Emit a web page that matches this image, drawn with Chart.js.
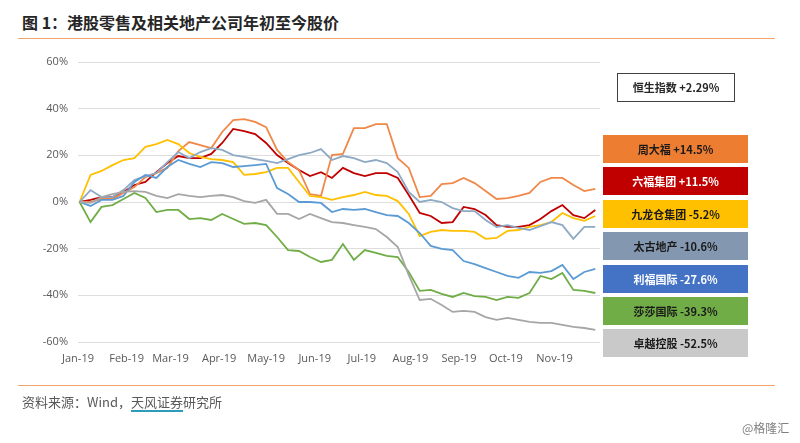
<!DOCTYPE html>
<html>
<head>
<meta charset="utf-8">
<script src="https://cdn.jsdelivr.net/npm/chart.js@4.4.1/dist/chart.umd.min.js"></script>
<style>
    html, body { margin: 0; padding: 0; background: #fff; }
    body {
        width: 800px; height: 443px; position: relative; overflow: hidden;
        font-family: "Noto Sans CJK SC", "Noto Sans", sans-serif;
    }
    .title { position: absolute; left: 22px; top: 11px; font-size: 16px; font-weight: bold; color: #262626; line-height: 22px; }
    .rule { position: absolute; left: 18px; width: 757px; height: 0; border-top: 1.5px solid #F2A46A; }
    #wrap { position: absolute; left: 0; top: 0; width: 800px; height: 443px; }
    .hsi {
        position: absolute; left: 617px; top: 73px; width: 118px; height: 29px; box-sizing: border-box;
        border: 1.5px solid #404040; text-align: center; line-height: 26px; font-size: 11px; font-weight: bold; color: #262626;
    }
    .tag {
        position: absolute; left: 603px; width: 145px; height: 28px; line-height: 28px;
        text-align: center; font-size: 11px; font-weight: bold; color: #1a1a1a;
    }
    .source { position: absolute; left: 22px; top: 392px; font-size: 13px; color: #595959; }
    .source u { text-decoration-color: #2E9BB8; text-decoration-thickness: 2px; text-underline-offset: 3px; }
    .mark { position: absolute; left: 742px; top: 419px; font-size: 12px; color: #808080; }
</style>
</head>
<body>
<div class="title">图 1：港股零售及相关地产公司年初至今股价</div>
<div class="rule" style="top:38px"></div>
<div id="wrap"><canvas id="chart"></canvas></div>
<div class="hsi">恒生指数 +2.29%</div>
<div id="tags"></div>
<div class="rule" style="top:385px"></div>
<div class="source">资料来源：Wind，<u>天风证券</u>研究所</div>
<div class="mark">@格隆汇</div>
<script>
(function () {
    "use strict";

    // day of year (Jan 1 = 0), one point a week
    const days = [];
    for (let d = 1; d <= 330; d += 7) days.push(d);

    const monthStarts = [0, 31, 59, 90, 120, 151, 181, 212, 243, 273, 304];
    const monthLabels = ["Jan-19", "Feb-19", "Mar-19", "Apr-19", "May-19", "Jun-19",
        "Jul-19", "Aug-19", "Sep-19", "Oct-19", "Nov-19"];

    // 周大福
    const chowTaiFook = [0, 0, 1.3, 1.3, 3.9, 6.4, 10.7, 12.4, 14.6, 21.8, 25.7, 24.4,
        23.1, 30.0, 35.1, 35.5, 34.3, 32.1, 22.3, 17.1, 13.7, 3.4, 2.6, 20.1,
        20.6, 31.7, 31.7, 33.4, 33.4, 18.8, 14.6, 2.1, 2.6, 7.7, 8.1, 10.3,
        8.1, 4.7, 1.3, 1.7, 2.6, 3.9, 8.6, 10.3, 10.3, 7.3, 4.7, 5.6];
    // 六福集团
    const lukFook = [0, 0.9, 2.1, 2.1, 4.3, 7.3, 8.6, 12.8, 16.7, 19.7, 18.8, 18.8,
        20.6, 25.3, 31.3, 30.4, 29.1, 25.3, 20.1, 16.7, 13.7, 11.1, 12.8, 10.3,
        14.6, 12.4, 11.1, 12.4, 12.4, 10.3, 3.0, -4.7, -6.0, -9.0, -8.6, -2.1,
        -3.0, -5.6, -9.9, -10.7, -10.7, -9.9, -7.3, -3.9, -1.3, -5.6, -6.9, -3.4];
    // 九龙仓集团
    const wharf = [0, 11.6, 13.3, 15.8, 18.0, 18.8, 23.6, 24.8, 26.6, 24.8, 21.0, 19.3,
        18.4, 18.0, 17.1, 11.6, 12.0, 12.8, 14.6, 14.6, 8.6, 2.6, 2.1, 0.9,
        2.1, 3.0, 4.3, 3.0, 2.6, 0.4, -5.1, -14.6, -12.8, -12.0, -12.4, -12.4,
        -12.8, -15.8, -15.4, -12.4, -12.0, -10.7, -9.9, -8.6, -4.7, -6.9, -8.1, -6.0];
    // 太古地产
    const swireProp = [0, 5.1, 2.1, 2.1, 5.1, 9.4, 11.1, 12.4, 17.1, 21.4, 18.8, 21.4,
        23.1, 22.3, 20.1, 19.3, 18.4, 17.6, 16.7, 18.4, 20.1, 21.0, 22.7, 18.0,
        19.7, 18.8, 17.1, 18.0, 16.7, 12.8, 4.3, 0, 0.9, 0, -2.6, -3.9,
        -3.9, -7.7, -10.7, -9.9, -11.1, -12.0, -10.3, -8.6, -9.9, -15.8, -10.7, -10.7];
    // 利福国际
    const lifestyle = [0, -1.7, 0.9, 0.9, 2.6, 8.6, 11.6, 10.3, 15.0, 18.0, 16.3, 15.0,
        17.1, 16.7, 15.0, 15.4, 15.8, 16.3, 6.0, 3.4, 0, 0, -0.4, -4.3,
        -3.0, -3.4, -3.0, -4.3, -5.6, -6.0, -9.0, -13.3, -18.8, -20.1, -20.6, -25.3,
        -26.6, -28.3, -30.0, -31.7, -32.5, -30.0, -30.4, -29.6, -27.0, -33.0, -30.0, -28.7];
    // 莎莎国际
    const sasa = [0, -8.6, -2.1, -1.3, 1.3, 3.9, 1.7, -4.3, -3.4, -3.4, -7.3, -6.9,
        -7.7, -5.1, -7.3, -9.4, -9.0, -9.9, -15.0, -20.6, -21.0, -23.6, -25.7, -24.8,
        -18.0, -24.8, -20.6, -21.8, -23.1, -23.6, -30.0, -38.1, -37.7, -39.4, -40.7, -39.0,
        -40.3, -40.7, -42.0, -40.7, -41.1, -39.0, -31.7, -33.0, -30.4, -37.7, -38.1, -39.0];
    // 卓越控股
    const zhuoyue = [0, -0.4, 2.1, 3.4, 4.3, 4.7, 4.3, 2.6, 1.7, 3.4, 2.6, 2.1,
        2.6, 3.0, 2.1, 0.4, -0.4, 0.9, -5.1, -5.1, -7.3, -5.1, -6.9, -8.6,
        -9.0, -9.9, -10.7, -11.6, -15.0, -19.3, -31.3, -42.0, -41.5, -44.1, -47.1, -46.7,
        -47.1, -49.3, -50.5, -49.7, -50.5, -51.4, -51.8, -51.8, -52.7, -53.5, -54.0, -54.8];

    const series = [
        { name: "卓越控股", tag: "卓越控股 -52.5%", data: zhuoyue, line: "#A6A6A6", box: "#C9C9C9", text: "#1a1a1a" },
        { name: "莎莎国际", tag: "莎莎国际 -39.3%", data: sasa, line: "#70AD47", box: "#70AD47", text: "#1a1a1a" },
        { name: "利福国际", tag: "利福国际 -27.6%", data: lifestyle, line: "#5B9BD5", box: "#4472C4", text: "#ffffff" },
        { name: "太古地产", tag: "太古地产 -10.6%", data: swireProp, line: "#8EA9C4", box: "#8497B0", text: "#1a1a1a" },
        { name: "九龙仓集团", tag: "九龙仓集团 -5.2%", data: wharf, line: "#FFC000", box: "#FFC000", text: "#1a1a1a" },
        { name: "周大福", tag: "周大福 +14.5%", data: chowTaiFook, line: "#F0884A", box: "#ED7D31", text: "#1a1a1a" },
        { name: "六福集团", tag: "六福集团 +11.5%", data: lukFook, line: "#C00000", box: "#C00000", text: "#ffffff" },
    ];

    // Colour tags on the right, top to bottom
    const tagOrder = ["周大福", "六福集团", "九龙仓集团", "太古地产", "利福国际", "莎莎国际", "卓越控股"];
    const tagTops = [135, 167, 200, 232, 265, 297, 329];
    const tagBox = document.getElementById("tags");
    tagOrder.forEach((name, i) => {
        const s = series.find((x) => x.name === name);
        const el = document.createElement("div");
        el.className = "tag";
        el.style.top = tagTops[i] + "px";
        el.style.background = s.box;
        el.style.color = s.text;
        el.textContent = s.tag;
        tagBox.appendChild(el);
    });

    const tickFont = { family: "'Open Sans', 'Noto Sans', sans-serif", size: 11 };

    new Chart(document.getElementById("chart"), {
        type: "line",
        data: {
            datasets: series.map((s) => ({
                label: s.name,
                data: days.map((d, i) => ({ x: d, y: s.data[i] })),
                borderColor: s.line,
                borderWidth: 1.8,
                pointRadius: 0,
                tension: 0,
                fill: false,
            })),
        },
        options: {
            responsive: true,
            maintainAspectRatio: false,
            animation: false,
            layout: { padding: { left: 0, top: 62, right: 200, bottom: 71 } },
            plugins: { legend: { display: false }, tooltip: { enabled: false } },
            scales: {
                x: {
                    type: "linear",
                    min: 0,
                    max: 333,
                    afterBuildTicks: (axis) => {
                        axis.ticks = monthStarts.map((v) => ({ value: v }));
                    },
                    afterFit: (axis) => { axis.height = 30; },
                    ticks: {
                        autoSkip: false,
                        maxRotation: 0,
                        padding: 2,
                        font: tickFont,
                        color: "#595959",
                        callback: (value) => monthLabels[monthStarts.indexOf(value)],
                    },
                    grid: { display: false },
                    border: { display: false },
                },
                y: {
                    min: -60,
                    max: 60,
                    afterFit: (axis) => { axis.width = 78; },
                    ticks: {
                        stepSize: 20,
                        padding: 10,
                        font: tickFont,
                        color: "#595959",
                        callback: (value) => value + "%",
                    },
                    grid: { color: "#DDDDDD", lineWidth: 1, drawTicks: false },
                    border: { display: false },
                },
            },
        },
    });
})();
</script>
</body>
</html>
